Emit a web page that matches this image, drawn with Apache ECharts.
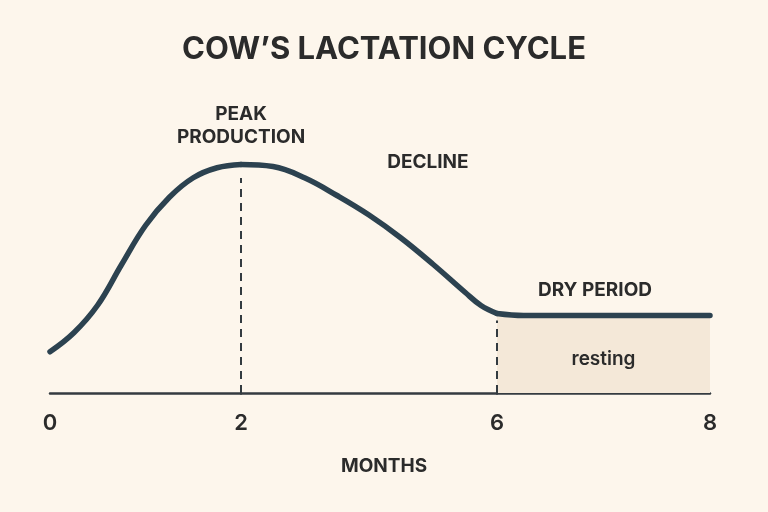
<!DOCTYPE html>
<html>
<head>
<meta charset="utf-8">
<script src="https://cdn.jsdelivr.net/npm/echarts@6/dist/echarts.min.js"></script>
<style>
  html, body { margin: 0; padding: 0; background: #fdf6ec; }
  #chart { width: 768px; height: 512px; }
</style>
</head>
<body>
<div id="chart"></div>
<script>
// curve (months, relative milk yield)
const months = [0, 0.25, 0.5, 0.75, 1, 1.25, 1.5, 1.75, 2, 2.5, 3, 3.5, 4, 4.5, 5, 5.5, 5.75, 6, 6.25, 8];
const milkYield = [16.5, 24.1, 35.2, 51.4, 67, 78.3, 86.1, 90.1, 91.4, 90.6, 86, 79, 71.2, 62, 51.5, 40.3, 35, 31.8, 31, 31];
// stage boundaries (each drawn on its own stretch of the axis, as in the picture)
const stageBounds = [0, 2, 6, 8];
const tickLabels = ['0', '2', '6', '8'];
const stageNames = ['PEAK\nPRODUCTION', 'DECLINE', 'DRY PERIOD', 'resting'];
const dryLevel = 31;

const ink = '#2c4250';
const textColor = '#2b2b2b';
const font = 'Inter, Roboto, "Noto Sans", sans-serif';

const chart = echarts.init(document.getElementById('chart'));

// grid edges (px) for 0-2, 2-6, 6-8
const edges = [50, 241, 497, 710];

const grids = [], xAxes = [], yAxes = [], series = [];
for (let i = 0; i < 3; i++) {
  grids.push({ left: edges[i], right: 768 - edges[i + 1], top: 93, bottom: 119 });
  const lo = stageBounds[i], hi = stageBounds[i + 1];
  const labelVals = i === 0 ? [lo, hi] : [hi];
  xAxes.push({
    type: 'value', gridIndex: i, min: lo, max: hi,
    axisLine: { show: true, lineStyle: { color: '#353b40', width: 2.5 } },
    axisTick: { show: false },
    splitLine: { show: false },
    axisLabel: {
      customValues: labelVals,
      formatter: v => tickLabels[stageBounds.indexOf(v)],
      color: textColor, fontSize: 22, fontWeight: 600, fontFamily: font, margin: 19,
      showMinLabel: true, showMaxLabel: true
    }
  });
  yAxes.push({ type: 'value', gridIndex: i, min: 0, max: 120, show: false });

  const pts = [];
  months.forEach((m, k) => { if (m >= lo && m <= hi) pts.push([m, milkYield[k]]); });
  series.push({
    type: 'line', xAxisIndex: i, yAxisIndex: i, data: pts,
    smooth: 0.4, showSymbol: false, silent: true,
    lineStyle: { color: ink, width: 5.5, cap: 'round' },
    z: 3
  });
}

const markText = { color: textColor, fontSize: 19, fontWeight: 'bold', fontFamily: font, lineHeight: 23 };

// peak: dashed guide + label
series[0].markLine = {
  silent: true, symbol: 'none', label: { show: false },
  lineStyle: { color: '#333b40', width: 2, type: [8, 6] },
  data: [[{ coord: [2, 0] }, { coord: [2, 86] }]]
};
series[0].markPoint = {
  symbolSize: 0, silent: true,
  label: Object.assign({ show: true, position: 'inside', formatter: stageNames[0] }, markText),
  data: [{ coord: [2, 106.8] }]
};
series[1].markPoint = {
  symbolSize: 0, silent: true,
  label: Object.assign({ show: true, position: 'inside', formatter: stageNames[1] }, markText),
  data: [{ coord: [4.92, 92.4] }]
};
// dry period: shaded block, dashed guide, labels
series[2].markArea = {
  silent: true,
  itemStyle: { color: '#f4e8d8' },
  label: { show: true, position: 'inside', offset: [0, 5], formatter: stageNames[3], color: textColor, fontSize: 19, fontWeight: 600, fontFamily: font },
  data: [[{ coord: [6, 0] }, { coord: [8, dryLevel] }]]
};
series[2].markLine = {
  silent: true, symbol: 'none', label: { show: false },
  lineStyle: { color: '#333b40', width: 2, type: [8, 6] },
  data: [[{ coord: [6, 0] }, { coord: [6, 29] }]]
};
series[2].markPoint = {
  symbolSize: 0, silent: true,
  label: Object.assign({ show: true, position: 'inside', formatter: stageNames[2] }, markText),
  data: [{ coord: [6.92, 41.2] }]
};

chart.setOption({
  animation: false,
  backgroundColor: '#fdf6ec',
  title: {
    text: 'COW\u2019S LACTATION CYCLE',
    left: 'center', top: 29,
    textStyle: { color: textColor, fontSize: 31, fontWeight: 'bold', fontFamily: font }
  },
  graphic: [{
    type: 'text', left: 'center', top: 457,
    style: { text: 'MONTHS', fill: textColor, font: 'bold 19px ' + font }
  }],
  grid: grids,
  xAxis: xAxes,
  yAxis: yAxes,
  series: series
});
</script>
</body>
</html>
